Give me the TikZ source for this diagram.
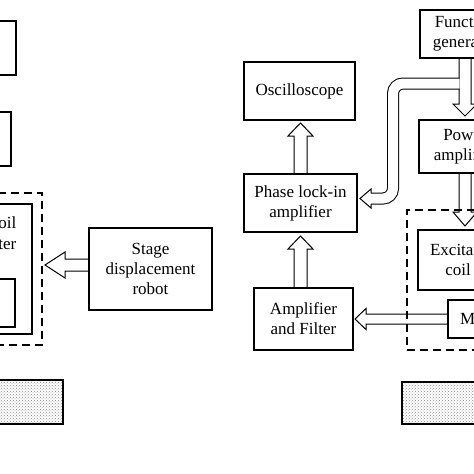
\documentclass[tikz,border=0pt]{standalone}
\usepackage{fontspec}
\setmainfont{Liberation Serif}
\usetikzlibrary{calc,patterns}
\tikzset{
  box/.style={draw, line width=2pt, inner sep=0pt, align=center, font=\fontsize{17}{20}\selectfont},
  plaintext/.style={inner sep=0pt, font=\fontsize{17}{21}\selectfont},
  harrow/.style={draw, line width=1pt, line join=miter},
  branch/.style={draw, line width=1pt, double=white, double distance=10pt, rounded corners=10pt},
  dbox/.style={draw, line width=2pt, dash pattern=on 8pt off 5pt, inner sep=0pt},
  dotbox/.style={draw, line width=2pt, pattern=crosshatch dots, pattern color=black!45, inner sep=0pt}
}
\newcommand\blockleft[5]{\draw[harrow] ($(#1)+(0,-#4)$) -- ($(#2)+(#3,-#4)$) -- ($(#2)+(#3,-#5)$) -- (#2) -- ($(#2)+(#3,#5)$) -- ($(#2)+(#3,#4)$) -- ($(#1)+(0,#4)$);}
\newcommand\blockup[5]{\draw[harrow] ($(#1)+(-#4,0)$) -- ($(#2)+(-#4,#3)$) -- ($(#2)+(-#5,#3)$) -- (#2) -- ($(#2)+(#5,#3)$) -- ($(#2)+(#4,#3)$) -- ($(#1)+(#4,0)$);}
\newcommand\blockdown[5]{\draw[harrow] ($(#1)+(-#4,0)$) -- ($(#2)+(-#4,-#3)$) -- ($(#2)+(-#5,-#3)$) -- (#2) -- ($(#2)+(#5,-#3)$) -- ($(#2)+(#4,-#3)$) -- ($(#1)+(#4,0)$);}
\begin{document}
\begin{tikzpicture}[x=1pt,y=-1pt]
\useasboundingbox (0,0) rectangle (474,474);
\clip (0,0) rectangle (474,474);

% ---------- left half (cut off) ----------
\node[box, minimum width=60, minimum height=54] (L1) at (-14,48) {};
\node[box, minimum width=60, minimum height=54] (L2) at (-19,139) {};
\node[dbox, minimum width=72, minimum height=152] (DL) at (6,269) {};
\node[box, minimum width=80, minimum height=130] (LC) at (-8,269) {};
\node[plaintext, anchor=east, align=right] (LCt) at (16.5,235) {Detection coil\\magnetometer};
\node[box, minimum width=60, minimum height=48] (LI) at (-15,303) {};
\node[box] (ST) at (150.5,269) [minimum width=123, minimum height=82] {Stage\\displacement\\robot};
\node[dotbox, minimum width=100, minimum height=44, anchor=north east] (BL) at (64,379) {};

\coordinate (t1) at ($(DL.east)+(2,-4)$);
\coordinate (s1) at (ST.west |- t1);
\blockleft{s1}{t1}{20}{6}{13}

% ---------- right half ----------
\node[box, minimum width=111, minimum height=58] (OS) at (299.5,91) {Oscilloscope};
\node[box, minimum width=113, minimum height=58] (PH) at (300.5,203) {Phase lock-in\\amplifier};
\node[box, minimum width=99, minimum height=62] (AF) at (303.5,319) {Amplifier\\and Filter};
\node[box, minimum width=90, minimum height=48] (FG) at (465,34) {Function\\generator};
\node[box, minimum width=92, minimum height=53] (PA) at (465,146.5) {Power\\amplifier};
\node[box, minimum width=94, minimum height=60] (EX) at (465,260) {Excitation\\coil +};
\node[box, anchor=west, inner xsep=12pt, minimum height=38] (MB) at (447,319) {MI sensor};
\node[dbox, minimum width=120, minimum height=140, anchor=north west] (DR) at (406,209) {};
\node[dotbox, minimum width=100, minimum height=42, anchor=north west] (BR) at (401,381) {};

% oscilloscope <- phase lock-in
\coordinate (t2) at ($(PH.north |- OS.south)+(0,2)$);
\blockup{PH.north}{t2}{13}{6.5}{12.5}
% phase lock-in <- amplifier
\coordinate (t3) at ($(PH.south)+(0,3)$);
\coordinate (s3) at (t3 |- AF.north);
\blockup{s3}{t3}{13}{6.5}{12.5}
% amplifier <- sensor
\coordinate (t4) at ($(AF.east)+(1,0)$);
\blockleft{MB.west}{t4}{11}{5}{10.5}
% function generator -> power amplifier
\coordinate (t5) at ($(PA.north)+(0,-3)$);
\blockdown{FG.south}{t5}{12}{6}{12}
% power amplifier -> excitation coil
\coordinate (t6) at ($(EX.north)+(0,-3)$);
\blockdown{PA.south}{t6}{14}{6}{12}
% branch: function generator -> phase lock-in
\coordinate (b0) at ($(FG.south)+(-5.5,24.5)$);
\coordinate (bt) at ($(PH.east)+(2,-4.5)$);
\coordinate (bh) at ($(bt)+(11,0)$);
\draw[branch] (b0) -| ($(bh)+(22,0)$) -- (bh);
\draw[harrow] ($(bh)+(0,-5.5)$) -- ($(bh)+(0,-9.5)$) -- (bt) -- ($(bh)+(0,9.5)$) -- ($(bh)+(0,5.5)$);
\end{tikzpicture}
\end{document}
